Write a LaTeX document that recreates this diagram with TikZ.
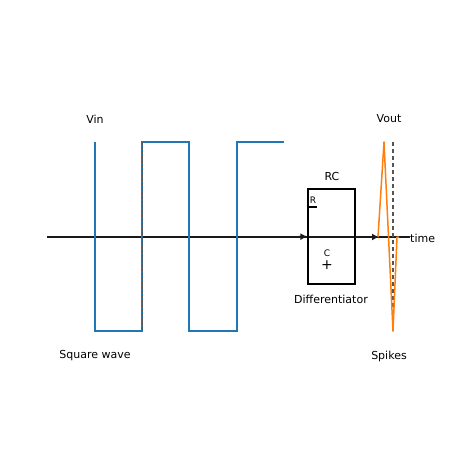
\documentclass[tikz,border=0pt]{standalone}
\usepackage{fontspec}
\setmainfont{DejaVu Sans}
\usetikzlibrary{arrows.meta}
\definecolor{mblue}{HTML}{1F77B4}
\definecolor{morange}{HTML}{FF7F0E}
\definecolor{axisc}{HTML}{1A1A1A}
\definecolor{dashc}{HTML}{555555}
\tikzset{
  lbl/.style={font=\fontsize{11}{13}\selectfont, inner sep=0pt, text=black},
  wave/.style={line width=1.5pt, line join=round},
  axisline/.style={line width=1.4pt, draw=axisc},
  flow/.style={line width=1.4pt, draw=axisc, -{Latex[length=7pt,width=7pt]}},
  guide/.style={line width=1.2pt, draw=dashc, dash pattern=on 4pt off 3pt},
  boxst/.style={draw=black, line width=1.2pt}
}
\begin{document}
\begin{tikzpicture}[x=1pt,y=-1pt]
\useasboundingbox (0,0) rectangle (474,474);
% axis
\coordinate (aL) at (47,237);
\coordinate (aR) at (410,237);
\draw[axisline] (aL) -- (aR);
% square wave
\draw[wave, draw=mblue, line join=miter] (95,142) -- (95,331) -- (142,331) -- (142,142) -- (189,142) -- (189,331) -- (237,331) -- (237,142) -- (284,142);
\coordinate (gt) at (142,142);
\coordinate (gb) at (142,331);
\draw[line width=1pt, draw=dashc, dash pattern=on 3pt off 1.5pt] (gt) -- (gb);
% box
\node[boxst, minimum width=47pt, minimum height=95pt, inner sep=0pt] (box) at (331.5,236.5) {};
\coordinate (in0) at (285,237);
\coordinate (out0) at (355,237);
\coordinate (out1) at (379,237);
\draw[flow] (in0) -- (box.west);
\draw[flow] (out0) -- (out1);
\coordinate (r0) at (308,207);
\coordinate (r1) at (317,207);
\draw[line width=1.2pt] (r0) -- (r1);
\node[lbl, font=\fontsize{9}{11}\selectfont] (R) at (313,200) {R};
\node[lbl, font=\fontsize{9}{11}\selectfont] (C) at (327,253) {C};
\node[lbl, font=\fontsize{14}{16}\selectfont] (plus) at (327,265) {+};
\node[lbl] (RC) at (332,176) {RC};
\node[lbl] (diff) at (331,299) {Differentiator};
% spikes
\coordinate (st) at (393,142);
\coordinate (sb) at (393,331);
\draw[guide] (st) -- (sb);
\draw[wave, draw=morange] (378,237) -- (384,142) -- (393,331) -- (397,237) -- (399,237);
% labels
\node[lbl] (vin) at (95,119) {Vin};
\node[lbl] (sq) at (95,356) {Square wave};
\node[lbl] (vout) at (389,119) {Vout};
\node[lbl] (spk) at (389,356) {Spikes};
\node[lbl, anchor=west] (time) at (410,238) {time};
\end{tikzpicture}
\end{document}
